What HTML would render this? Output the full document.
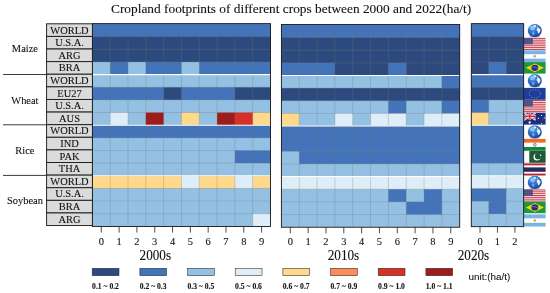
<!DOCTYPE html><html><head><meta charset="utf-8"><title>Cropland footprints</title>
<style>html,body{margin:0;padding:0;background:#fff;overflow:hidden}svg{display:block}text{font-family:"Liberation Serif",serif;fill:#111;stroke:#111;stroke-width:0.1px}</style></head><body>
<svg width="550" height="293" viewBox="0 0 550 293">
<rect width="550" height="293" fill="#fff"/>
<defs>
<filter id="bl" x="-5%" y="-5%" width="110%" height="110%"><feGaussianBlur stdDeviation="0.35"/></filter>
<radialGradient id="gg" cx="0.38" cy="0.3" r="0.75"><stop offset="0" stop-color="#5b9be6"/><stop offset="0.55" stop-color="#2d68c4"/><stop offset="1" stop-color="#173f94"/></radialGradient>
<g id="globe"><ellipse cx="10.9" cy="12.2" rx="5.5" ry="1.1" fill="#9a9a9a" opacity="0.55"/><ellipse cx="10.9" cy="6.4" rx="7.05" ry="6.55" fill="url(#gg)"/>
<path d="M5.7 3.6 L6.9 2.1 L9.1 1.2 L11.2 0.6 L12.4 1.5 L11.8 3.0 L10.9 3.9 L10.3 5.5 L9.1 6.4 L7.8 5.8 L6.6 5.2z" fill="#86cdf3" opacity="0.9"/>
<path d="M10.0 1.0 L12.1 1.4 L11.7 2.8 L10.3 2.7z" fill="#eef7fd" opacity="0.9"/>
<path d="M8.2 7.9 L9.7 7.6 L10.6 8.8 L10.3 10.4 L9.1 11.3 L8.3 9.8z" fill="#6fb6ec" opacity="0.85"/>
<path d="M13.1 4.2 L14.3 3.6 L15.8 4.2 L16.7 6.1 L16.1 7.6 L14.9 9.5 L14.0 8.8 L13.7 7.0 L12.8 6.1z" fill="#f4f8fd" opacity="0.95"/>
<path d="M12.8 2.1 L14.3 2.2 L14.5 3.3 L13.1 3.4z" fill="#d8ebfa" opacity="0.9"/></g>
<g id="us"><rect width="21.7" height="12" fill="#f6eef0"/><path d="M0 0.46H21.7M0 2.31H21.7M0 4.15H21.7M0 6H21.7M0 7.85H21.7M0 9.69H21.7M0 11.54H21.7" stroke="#c4323f" stroke-width="0.92"/><rect width="8.9" height="6.3" fill="#4b4c84"/><path d="M0.9 1.2H8M0.9 3.1H8M0.9 5H8" stroke="#8a8cb4" stroke-width="0.6" stroke-dasharray="0.6 1.1"/></g>
<g id="arg"><rect width="21.7" height="12.1" fill="#fdfdfd"/><rect width="21.7" height="3.9" fill="#78b4e6"/><rect y="8.4" width="21.7" height="3.7" fill="#78b4e6"/><circle cx="10.9" cy="6" r="1.25" fill="#e9a02c"/></g>
<g id="bra"><rect width="21.7" height="11.5" fill="#1d9a3a"/><path d="M10.9 1.3 L20.1 5.75 L10.9 10.2 L1.9 5.75z" fill="#f6d40f"/><ellipse cx="10.9" cy="5.75" rx="3.5" ry="3.1" fill="#1f2f86"/><path d="M7.9 5 Q11 4.2 14.2 6.6" stroke="#9fb6e0" stroke-width="0.5" fill="none"/></g>
<g id="eu"><rect width="21.7" height="11.9" fill="#1d3c9e"/><ellipse cx="10.9" cy="5.95" rx="5.6" ry="4.2" fill="none" stroke="#c9b040" stroke-width="0.95" stroke-dasharray="0.95 1.63" opacity="0.9"/></g>
<g id="aus"><rect width="21.7" height="11.9" fill="#1d2f7c"/><path d="M0 0 L11.9 7.2 M11.9 0 L0 7.2" stroke="#fff" stroke-width="1.7"/><path d="M0 0 L11.9 7.2 M11.9 0 L0 7.2" stroke="#d8263c" stroke-width="0.6"/><path d="M5.95 0 V7.2 M0 3.6 H11.9" stroke="#fff" stroke-width="2.4"/><path d="M5.95 0 V7.2 M0 3.6 H11.9" stroke="#e0233a" stroke-width="1.4"/><g fill="#fff"><circle cx="5.8" cy="9.8" r="1.15"/><circle cx="17.6" cy="2.6" r="0.6"/><circle cx="14.5" cy="5.7" r="0.6"/><circle cx="20.4" cy="5.2" r="0.6"/><circle cx="17.6" cy="10.8" r="0.6"/><circle cx="18.9" cy="7.2" r="0.35"/></g></g>
<g id="ind"><rect width="21.7" height="11.9" fill="#fdfdfd"/><rect width="21.7" height="3.7" fill="#f36a24"/><rect y="8.1" width="21.7" height="3.8" fill="#16853a"/><circle cx="10.9" cy="5.9" r="1.5" fill="#c8cce4" stroke="#5560a8" stroke-width="0.6"/></g>
<g id="pak"><rect width="21.7" height="11.8" fill="#1c5a36"/><rect width="5.4" height="11.8" fill="#fdfdfd"/><circle cx="13.1" cy="6.1" r="3.5" fill="#fdfdfd"/><circle cx="14.1" cy="5.2" r="3.1" fill="#1c5a36"/><circle cx="16.7" cy="4.2" r="0.8" fill="#fdfdfd"/></g>
<g id="tha"><rect width="21.7" height="12.1" fill="#fdfdfd"/><rect width="21.7" height="1.9" fill="#b9253a"/><rect y="10.2" width="21.7" height="1.9" fill="#b9253a"/><rect y="4" width="21.7" height="4.4" fill="#2c2a5e"/></g>
</defs>
<text transform="translate(291.10 12.50) scale(0.990 1)" font-size="13.50" text-anchor="middle">Cropland footprints of different crops between 2000 and 2022(ha/t)</text>
<g filter="url(#bl)">
<use href="#globe" x="523.9" y="24.20"/>
<use href="#us" x="523.9" y="37.90"/>
<use href="#arg" x="523.9" y="50.30"/>
<use href="#bra" x="523.9" y="62.10"/>
<use href="#globe" x="523.9" y="74.20"/>
<use href="#eu" x="523.9" y="87.90"/>
<use href="#us" x="523.9" y="100.10"/>
<use href="#aus" x="523.9" y="112.70"/>
<use href="#globe" x="523.9" y="125.50"/>
<use href="#ind" x="523.9" y="138.90"/>
<use href="#pak" x="523.9" y="151.00"/>
<use href="#tha" x="523.9" y="163.40"/>
<use href="#globe" x="523.9" y="176.00"/>
<use href="#us" x="523.9" y="189.50"/>
<use href="#bra" x="523.9" y="201.70"/>
<use href="#arg" x="523.9" y="214.40"/>
</g>
<rect x="92.40" y="24.00" width="178.10" height="13.25" fill="#4373b9"/>
<rect x="92.40" y="36.65" width="178.10" height="13.25" fill="#2c4a7d"/>
<rect x="92.40" y="49.30" width="178.10" height="13.25" fill="#2c4a7d"/>
<rect x="92.40" y="61.95" width="18.41" height="13.25" fill="#94c1e3"/>
<rect x="110.21" y="61.95" width="18.41" height="13.25" fill="#4373b9"/>
<rect x="128.02" y="61.95" width="18.41" height="13.25" fill="#94c1e3"/>
<rect x="145.83" y="61.95" width="36.22" height="13.25" fill="#4373b9"/>
<rect x="181.45" y="61.95" width="18.41" height="13.25" fill="#94c1e3"/>
<rect x="199.26" y="61.95" width="71.24" height="13.25" fill="#4373b9"/>
<rect x="92.40" y="74.60" width="178.10" height="13.25" fill="#94c1e3"/>
<rect x="92.40" y="87.25" width="71.84" height="13.25" fill="#4373b9"/>
<rect x="163.64" y="87.25" width="18.41" height="13.25" fill="#2c4a7d"/>
<rect x="181.45" y="87.25" width="54.03" height="13.25" fill="#4373b9"/>
<rect x="234.88" y="87.25" width="35.62" height="13.25" fill="#2c4a7d"/>
<rect x="92.40" y="99.90" width="178.10" height="13.25" fill="#94c1e3"/>
<rect x="92.40" y="112.55" width="18.41" height="13.25" fill="#94c1e3"/>
<rect x="110.21" y="112.55" width="18.41" height="13.25" fill="#ddeef8"/>
<rect x="128.02" y="112.55" width="18.41" height="13.25" fill="#94c1e3"/>
<rect x="145.83" y="112.55" width="18.41" height="13.25" fill="#9e1c1c"/>
<rect x="163.64" y="112.55" width="18.41" height="13.25" fill="#94c1e3"/>
<rect x="181.45" y="112.55" width="18.41" height="13.25" fill="#fed98b"/>
<rect x="199.26" y="112.55" width="18.41" height="13.25" fill="#94c1e3"/>
<rect x="217.07" y="112.55" width="18.41" height="13.25" fill="#9e1c1c"/>
<rect x="234.88" y="112.55" width="18.41" height="13.25" fill="#d73027"/>
<rect x="252.69" y="112.55" width="17.81" height="13.25" fill="#fed98b"/>
<rect x="92.40" y="125.20" width="178.10" height="13.25" fill="#4373b9"/>
<rect x="92.40" y="137.85" width="178.10" height="13.25" fill="#94c1e3"/>
<rect x="92.40" y="150.50" width="143.08" height="13.25" fill="#94c1e3"/>
<rect x="234.88" y="150.50" width="35.62" height="13.25" fill="#4373b9"/>
<rect x="92.40" y="163.15" width="178.10" height="13.25" fill="#94c1e3"/>
<rect x="92.40" y="175.80" width="89.65" height="13.25" fill="#fed98b"/>
<rect x="181.45" y="175.80" width="18.41" height="13.25" fill="#ddeef8"/>
<rect x="199.26" y="175.80" width="36.22" height="13.25" fill="#fed98b"/>
<rect x="234.88" y="175.80" width="18.41" height="13.25" fill="#ddeef8"/>
<rect x="252.69" y="175.80" width="17.81" height="13.25" fill="#fed98b"/>
<rect x="92.40" y="188.45" width="178.10" height="13.25" fill="#94c1e3"/>
<rect x="92.40" y="201.10" width="178.10" height="13.25" fill="#94c1e3"/>
<rect x="92.40" y="213.75" width="160.89" height="12.65" fill="#94c1e3"/>
<rect x="252.69" y="213.75" width="17.81" height="12.65" fill="#ddeef8"/>
<path d="M110.21 24.00 V226.40 M128.02 24.00 V226.40 M145.83 24.00 V226.40 M163.64 24.00 V226.40 M181.45 24.00 V226.40 M199.26 24.00 V226.40 M217.07 24.00 V226.40 M234.88 24.00 V226.40 M252.69 24.00 V226.40 M92.40 36.65 H270.50 M92.40 49.30 H270.50 M92.40 61.95 H270.50 M92.40 74.60 H270.50 M92.40 87.25 H270.50 M92.40 99.90 H270.50 M92.40 112.55 H270.50 M92.40 125.20 H270.50 M92.40 137.85 H270.50 M92.40 150.50 H270.50 M92.40 163.15 H270.50 M92.40 175.80 H270.50 M92.40 188.45 H270.50 M92.40 201.10 H270.50 M92.40 213.75 H270.50 " stroke="#7a746e" stroke-width="0.5" fill="none" opacity="0.6"/>
<path d="M92.40 74.60 H270.50 M92.40 125.20 H270.50 M92.40 175.80 H270.50 " stroke="#fff" stroke-width="1.1" fill="none"/>
<rect x="92.40" y="23.60" width="178.10" height="202.90" fill="none" stroke="#151515" stroke-width="0.9"/>
<text transform="translate(101.31 245.00) scale(0.960 1)" font-size="10.90" text-anchor="middle">0</text>
<text transform="translate(119.12 245.00) scale(0.960 1)" font-size="10.90" text-anchor="middle">1</text>
<text transform="translate(136.93 245.00) scale(0.960 1)" font-size="10.90" text-anchor="middle">2</text>
<text transform="translate(154.74 245.00) scale(0.960 1)" font-size="10.90" text-anchor="middle">3</text>
<text transform="translate(172.55 245.00) scale(0.960 1)" font-size="10.90" text-anchor="middle">4</text>
<text transform="translate(190.36 245.00) scale(0.960 1)" font-size="10.90" text-anchor="middle">5</text>
<text transform="translate(208.16 245.00) scale(0.960 1)" font-size="10.90" text-anchor="middle">6</text>
<text transform="translate(225.97 245.00) scale(0.960 1)" font-size="10.90" text-anchor="middle">7</text>
<text transform="translate(243.78 245.00) scale(0.960 1)" font-size="10.90" text-anchor="middle">8</text>
<text transform="translate(261.60 245.00) scale(0.960 1)" font-size="10.90" text-anchor="middle">9</text>
<path d="M101.31 226.40 V232.60 M119.12 226.40 V232.60 M136.93 226.40 V232.60 M154.74 226.40 V232.60 M172.55 226.40 V232.60 M190.36 226.40 V232.60 M208.16 226.40 V232.60 M225.97 226.40 V232.60 M243.78 226.40 V232.60 M261.60 226.40 V232.60 " stroke="#222" stroke-width="0.8" fill="none"/>
<rect x="281.40" y="24.90" width="178.30" height="13.24" fill="#4373b9"/>
<rect x="281.40" y="37.54" width="178.30" height="13.24" fill="#2c4a7d"/>
<rect x="281.40" y="50.18" width="178.30" height="13.24" fill="#2c4a7d"/>
<rect x="281.40" y="62.82" width="54.09" height="13.24" fill="#4373b9"/>
<rect x="334.89" y="62.82" width="54.09" height="13.24" fill="#2c4a7d"/>
<rect x="388.38" y="62.82" width="18.43" height="13.24" fill="#4373b9"/>
<rect x="406.21" y="62.82" width="53.49" height="13.24" fill="#2c4a7d"/>
<rect x="281.40" y="75.46" width="161.07" height="13.24" fill="#94c1e3"/>
<rect x="441.87" y="75.46" width="17.83" height="13.24" fill="#4373b9"/>
<rect x="281.40" y="88.10" width="178.30" height="13.24" fill="#2c4a7d"/>
<rect x="281.40" y="100.74" width="107.58" height="13.24" fill="#94c1e3"/>
<rect x="388.38" y="100.74" width="18.43" height="13.24" fill="#4373b9"/>
<rect x="406.21" y="100.74" width="36.26" height="13.24" fill="#94c1e3"/>
<rect x="441.87" y="100.74" width="17.83" height="13.24" fill="#4373b9"/>
<rect x="281.40" y="113.38" width="18.43" height="13.24" fill="#fed98b"/>
<rect x="299.23" y="113.38" width="36.26" height="13.24" fill="#94c1e3"/>
<rect x="334.89" y="113.38" width="18.43" height="13.24" fill="#ddeef8"/>
<rect x="352.72" y="113.38" width="18.43" height="13.24" fill="#94c1e3"/>
<rect x="370.55" y="113.38" width="36.26" height="13.24" fill="#ddeef8"/>
<rect x="406.21" y="113.38" width="18.43" height="13.24" fill="#94c1e3"/>
<rect x="424.04" y="113.38" width="35.66" height="13.24" fill="#ddeef8"/>
<rect x="281.40" y="126.02" width="178.30" height="13.24" fill="#4373b9"/>
<rect x="281.40" y="138.66" width="178.30" height="13.24" fill="#4373b9"/>
<rect x="281.40" y="151.30" width="18.43" height="13.24" fill="#94c1e3"/>
<rect x="299.23" y="151.30" width="160.47" height="13.24" fill="#4373b9"/>
<rect x="281.40" y="163.94" width="178.30" height="13.24" fill="#94c1e3"/>
<rect x="281.40" y="176.58" width="178.30" height="13.24" fill="#ddeef8"/>
<rect x="281.40" y="189.22" width="107.58" height="13.24" fill="#94c1e3"/>
<rect x="388.38" y="189.22" width="18.43" height="13.24" fill="#4373b9"/>
<rect x="406.21" y="189.22" width="18.43" height="13.24" fill="#94c1e3"/>
<rect x="424.04" y="189.22" width="18.43" height="13.24" fill="#4373b9"/>
<rect x="441.87" y="189.22" width="17.83" height="13.24" fill="#94c1e3"/>
<rect x="281.40" y="201.86" width="125.41" height="13.24" fill="#94c1e3"/>
<rect x="406.21" y="201.86" width="36.26" height="13.24" fill="#4373b9"/>
<rect x="441.87" y="201.86" width="17.83" height="13.24" fill="#94c1e3"/>
<rect x="281.40" y="214.50" width="178.30" height="12.64" fill="#94c1e3"/>
<path d="M299.23 24.90 V227.14 M317.06 24.90 V227.14 M334.89 24.90 V227.14 M352.72 24.90 V227.14 M370.55 24.90 V227.14 M388.38 24.90 V227.14 M406.21 24.90 V227.14 M424.04 24.90 V227.14 M441.87 24.90 V227.14 M281.40 37.54 H459.70 M281.40 50.18 H459.70 M281.40 62.82 H459.70 M281.40 75.46 H459.70 M281.40 88.10 H459.70 M281.40 100.74 H459.70 M281.40 113.38 H459.70 M281.40 126.02 H459.70 M281.40 138.66 H459.70 M281.40 151.30 H459.70 M281.40 163.94 H459.70 M281.40 176.58 H459.70 M281.40 189.22 H459.70 M281.40 201.86 H459.70 M281.40 214.50 H459.70 " stroke="#7a746e" stroke-width="0.5" fill="none" opacity="0.6"/>
<path d="M281.40 75.46 H459.70 M281.40 126.02 H459.70 M281.40 176.58 H459.70 " stroke="#fff" stroke-width="1.1" fill="none"/>
<rect x="281.40" y="24.50" width="178.30" height="202.74" fill="none" stroke="#151515" stroke-width="0.9"/>
<text transform="translate(290.31 245.00) scale(0.960 1)" font-size="10.90" text-anchor="middle">0</text>
<text transform="translate(308.14 245.00) scale(0.960 1)" font-size="10.90" text-anchor="middle">1</text>
<text transform="translate(325.97 245.00) scale(0.960 1)" font-size="10.90" text-anchor="middle">2</text>
<text transform="translate(343.80 245.00) scale(0.960 1)" font-size="10.90" text-anchor="middle">3</text>
<text transform="translate(361.63 245.00) scale(0.960 1)" font-size="10.90" text-anchor="middle">4</text>
<text transform="translate(379.46 245.00) scale(0.960 1)" font-size="10.90" text-anchor="middle">5</text>
<text transform="translate(397.29 245.00) scale(0.960 1)" font-size="10.90" text-anchor="middle">6</text>
<text transform="translate(415.12 245.00) scale(0.960 1)" font-size="10.90" text-anchor="middle">7</text>
<text transform="translate(432.95 245.00) scale(0.960 1)" font-size="10.90" text-anchor="middle">8</text>
<text transform="translate(450.78 245.00) scale(0.960 1)" font-size="10.90" text-anchor="middle">9</text>
<path d="M290.31 227.14 V233.34 M308.14 227.14 V233.34 M325.97 227.14 V233.34 M343.80 227.14 V233.34 M361.63 227.14 V233.34 M379.46 227.14 V233.34 M397.29 227.14 V233.34 M415.12 227.14 V233.34 M432.95 227.14 V233.34 M450.78 227.14 V233.34 " stroke="#222" stroke-width="0.8" fill="none"/>
<rect x="471.30" y="24.00" width="52.35" height="13.26" fill="#4373b9"/>
<rect x="471.30" y="36.66" width="52.35" height="13.26" fill="#2c4a7d"/>
<rect x="471.30" y="49.32" width="52.35" height="13.26" fill="#2c4a7d"/>
<rect x="471.30" y="61.98" width="18.05" height="13.26" fill="#2c4a7d"/>
<rect x="488.75" y="61.98" width="18.05" height="13.26" fill="#4373b9"/>
<rect x="506.20" y="61.98" width="17.45" height="13.26" fill="#2c4a7d"/>
<rect x="471.30" y="74.64" width="52.35" height="13.26" fill="#4373b9"/>
<rect x="471.30" y="87.30" width="52.35" height="13.26" fill="#2c4a7d"/>
<rect x="471.30" y="99.96" width="18.05" height="13.26" fill="#4373b9"/>
<rect x="488.75" y="99.96" width="34.90" height="13.26" fill="#94c1e3"/>
<rect x="471.30" y="112.62" width="18.05" height="13.26" fill="#fed98b"/>
<rect x="488.75" y="112.62" width="34.90" height="13.26" fill="#94c1e3"/>
<rect x="471.30" y="125.28" width="52.35" height="13.26" fill="#4373b9"/>
<rect x="471.30" y="137.94" width="52.35" height="13.26" fill="#4373b9"/>
<rect x="471.30" y="150.60" width="52.35" height="13.26" fill="#4373b9"/>
<rect x="471.30" y="163.26" width="52.35" height="13.26" fill="#94c1e3"/>
<rect x="471.30" y="175.92" width="52.35" height="13.26" fill="#ddeef8"/>
<rect x="471.30" y="188.58" width="35.50" height="13.26" fill="#4373b9"/>
<rect x="506.20" y="188.58" width="17.45" height="13.26" fill="#94c1e3"/>
<rect x="471.30" y="201.24" width="18.05" height="13.26" fill="#94c1e3"/>
<rect x="488.75" y="201.24" width="18.05" height="13.26" fill="#4373b9"/>
<rect x="506.20" y="201.24" width="17.45" height="13.26" fill="#94c1e3"/>
<rect x="471.30" y="213.90" width="52.35" height="12.66" fill="#94c1e3"/>
<path d="M488.75 24.00 V226.56 M506.20 24.00 V226.56 M471.30 36.66 H523.65 M471.30 49.32 H523.65 M471.30 61.98 H523.65 M471.30 74.64 H523.65 M471.30 87.30 H523.65 M471.30 99.96 H523.65 M471.30 112.62 H523.65 M471.30 125.28 H523.65 M471.30 137.94 H523.65 M471.30 150.60 H523.65 M471.30 163.26 H523.65 M471.30 175.92 H523.65 M471.30 188.58 H523.65 M471.30 201.24 H523.65 M471.30 213.90 H523.65 " stroke="#7a746e" stroke-width="0.5" fill="none" opacity="0.6"/>
<path d="M471.30 74.64 H523.65 M471.30 125.28 H523.65 M471.30 175.92 H523.65 " stroke="#fff" stroke-width="1.1" fill="none"/>
<rect x="471.30" y="23.60" width="52.35" height="203.06" fill="none" stroke="#151515" stroke-width="0.9"/>
<text transform="translate(480.03 245.00) scale(0.960 1)" font-size="10.90" text-anchor="middle">0</text>
<text transform="translate(497.48 245.00) scale(0.960 1)" font-size="10.90" text-anchor="middle">1</text>
<text transform="translate(514.92 245.00) scale(0.960 1)" font-size="10.90" text-anchor="middle">2</text>
<path d="M480.03 226.56 V232.76 M497.48 226.56 V232.76 M514.92 226.56 V232.76 " stroke="#222" stroke-width="0.8" fill="none"/>
<rect x="46.60" y="23.80" width="45.80" height="12.61" fill="#dbdbdb" stroke="#1c1c1c" stroke-width="0.95"/>
<text transform="translate(69.50 33.55) scale(0.960 1)" font-size="10.90" text-anchor="middle">WORLD</text>
<rect x="46.60" y="36.41" width="45.80" height="12.61" fill="#dbdbdb" stroke="#1c1c1c" stroke-width="0.95"/>
<text transform="translate(69.50 46.15) scale(0.960 1)" font-size="10.90" text-anchor="middle">U.S.A.</text>
<rect x="46.60" y="49.02" width="45.80" height="12.61" fill="#dbdbdb" stroke="#1c1c1c" stroke-width="0.95"/>
<text transform="translate(69.50 58.75) scale(0.960 1)" font-size="10.90" text-anchor="middle">ARG</text>
<rect x="46.60" y="61.63" width="45.80" height="12.61" fill="#dbdbdb" stroke="#1c1c1c" stroke-width="0.95"/>
<text transform="translate(69.50 71.35) scale(0.960 1)" font-size="10.90" text-anchor="middle">BRA</text>
<rect x="46.60" y="74.24" width="45.80" height="12.61" fill="#dbdbdb" stroke="#1c1c1c" stroke-width="0.95"/>
<text transform="translate(69.50 83.95) scale(0.960 1)" font-size="10.90" text-anchor="middle">WORLD</text>
<rect x="46.60" y="86.85" width="45.80" height="12.61" fill="#dbdbdb" stroke="#1c1c1c" stroke-width="0.95"/>
<text transform="translate(69.50 96.55) scale(0.960 1)" font-size="10.90" text-anchor="middle">EU27</text>
<rect x="46.60" y="99.46" width="45.80" height="12.61" fill="#dbdbdb" stroke="#1c1c1c" stroke-width="0.95"/>
<text transform="translate(69.50 109.15) scale(0.960 1)" font-size="10.90" text-anchor="middle">U.S.A.</text>
<rect x="46.60" y="112.07" width="45.80" height="12.61" fill="#dbdbdb" stroke="#1c1c1c" stroke-width="0.95"/>
<text transform="translate(69.50 121.75) scale(0.960 1)" font-size="10.90" text-anchor="middle">AUS</text>
<rect x="46.60" y="124.68" width="45.80" height="12.61" fill="#dbdbdb" stroke="#1c1c1c" stroke-width="0.95"/>
<text transform="translate(69.50 134.35) scale(0.960 1)" font-size="10.90" text-anchor="middle">WORLD</text>
<rect x="46.60" y="137.29" width="45.80" height="12.61" fill="#dbdbdb" stroke="#1c1c1c" stroke-width="0.95"/>
<text transform="translate(69.50 146.95) scale(0.960 1)" font-size="10.90" text-anchor="middle">IND</text>
<rect x="46.60" y="149.90" width="45.80" height="12.61" fill="#dbdbdb" stroke="#1c1c1c" stroke-width="0.95"/>
<text transform="translate(69.50 159.55) scale(0.960 1)" font-size="10.90" text-anchor="middle">PAK</text>
<rect x="46.60" y="162.51" width="45.80" height="12.61" fill="#dbdbdb" stroke="#1c1c1c" stroke-width="0.95"/>
<text transform="translate(69.50 172.15) scale(0.960 1)" font-size="10.90" text-anchor="middle">THA</text>
<rect x="46.60" y="175.12" width="45.80" height="12.61" fill="#dbdbdb" stroke="#1c1c1c" stroke-width="0.95"/>
<text transform="translate(69.50 184.75) scale(0.960 1)" font-size="10.90" text-anchor="middle">WORLD</text>
<rect x="46.60" y="187.73" width="45.80" height="12.61" fill="#dbdbdb" stroke="#1c1c1c" stroke-width="0.95"/>
<text transform="translate(69.50 197.35) scale(0.960 1)" font-size="10.90" text-anchor="middle">U.S.A.</text>
<rect x="46.60" y="200.34" width="45.80" height="12.61" fill="#dbdbdb" stroke="#1c1c1c" stroke-width="0.95"/>
<text transform="translate(69.50 209.95) scale(0.960 1)" font-size="10.90" text-anchor="middle">BRA</text>
<rect x="46.60" y="212.95" width="45.80" height="12.61" fill="#dbdbdb" stroke="#1c1c1c" stroke-width="0.95"/>
<text transform="translate(69.50 222.55) scale(0.960 1)" font-size="10.90" text-anchor="middle">ARG</text>
<text transform="translate(24.90 52.36) scale(0.940 1)" font-size="11.10" text-anchor="middle">Maize</text>
<text transform="translate(24.90 103.68) scale(0.940 1)" font-size="11.10" text-anchor="middle">Wheat</text>
<path d="M3 74.50 H46.60" stroke="#333" stroke-width="0.95"/>
<text transform="translate(24.90 154.00) scale(0.940 1)" font-size="11.10" text-anchor="middle">Rice</text>
<path d="M3 124.80 H46.60" stroke="#333" stroke-width="0.95"/>
<text transform="translate(24.90 204.22) scale(0.940 1)" font-size="11.10" text-anchor="middle">Soybean</text>
<path d="M3 175.40 H46.60" stroke="#333" stroke-width="0.95"/>
<text transform="translate(155.30 259.70) scale(0.930 1)" font-size="14.20" text-anchor="middle">2000s</text>
<text transform="translate(343.50 259.70) scale(0.930 1)" font-size="14.20" text-anchor="middle">2010s</text>
<text transform="translate(473.50 259.70) scale(0.930 1)" font-size="14.20" text-anchor="middle">2020s</text>
<rect x="92.20" y="268.3" width="26.8" height="7.4" fill="#2c4a7d" stroke="#2a2a2a" stroke-width="0.55"/>
<text transform="translate(105.50 288.60) scale(1.060 1)" font-size="7.20" text-anchor="middle" font-weight="bold">0.1 ~ 0.2</text>
<rect x="139.87" y="268.3" width="26.8" height="7.4" fill="#4373b9" stroke="#2a2a2a" stroke-width="0.55"/>
<text transform="translate(153.17 288.60) scale(1.060 1)" font-size="7.20" text-anchor="middle" font-weight="bold">0.2 ~ 0.3</text>
<rect x="187.54" y="268.3" width="26.8" height="7.4" fill="#94c1e3" stroke="#2a2a2a" stroke-width="0.55"/>
<text transform="translate(200.84 288.60) scale(1.060 1)" font-size="7.20" text-anchor="middle" font-weight="bold">0.3 ~ 0.5</text>
<rect x="235.21" y="268.3" width="26.8" height="7.4" fill="#ddeef8" stroke="#2a2a2a" stroke-width="0.55"/>
<text transform="translate(248.51 288.60) scale(1.060 1)" font-size="7.20" text-anchor="middle" font-weight="bold">0.5 ~ 0.6</text>
<rect x="282.88" y="268.3" width="26.8" height="7.4" fill="#fed98b" stroke="#2a2a2a" stroke-width="0.55"/>
<text transform="translate(296.18 288.60) scale(1.060 1)" font-size="7.20" text-anchor="middle" font-weight="bold">0.6 ~ 0.7</text>
<rect x="330.55" y="268.3" width="26.8" height="7.4" fill="#fc8d59" stroke="#2a2a2a" stroke-width="0.55"/>
<text transform="translate(343.85 288.60) scale(1.060 1)" font-size="7.20" text-anchor="middle" font-weight="bold">0.7 ~ 0.9</text>
<rect x="378.22" y="268.3" width="26.8" height="7.4" fill="#d73027" stroke="#2a2a2a" stroke-width="0.55"/>
<text transform="translate(391.52 288.60) scale(1.060 1)" font-size="7.20" text-anchor="middle" font-weight="bold">0.9 ~ 1.0</text>
<rect x="425.89" y="268.3" width="26.8" height="7.4" fill="#9e1c1c" stroke="#2a2a2a" stroke-width="0.55"/>
<text transform="translate(439.19 288.60) scale(1.060 1)" font-size="7.20" text-anchor="middle" font-weight="bold">1.0 ~ 1.1</text>
<text x="489.4" y="280.2" font-size="9.9" text-anchor="middle" style="font-family:'Liberation Sans',sans-serif;stroke-width:0.08px;fill:#151515">unit:(ha/t)</text>
</svg></body></html>
